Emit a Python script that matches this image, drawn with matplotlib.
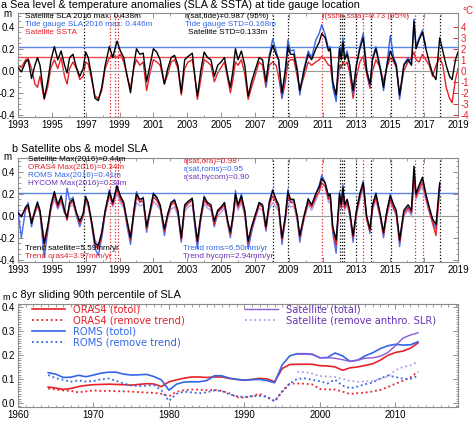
import matplotlib
matplotlib.use("Agg")
import matplotlib.pyplot as plt
import numpy as np
from matplotlib.ticker import MultipleLocator, FixedLocator, FormatStrFormatter

plt.rcParams['font.family'] = ['Liberation Sans', 'DejaVu Sans']

W, H = 474, 423

# ---------------------------------------------------------------------------
# Data
# ---------------------------------------------------------------------------

# satellite SLA at tide gauge (m), one line per calendar year
sat_years = np.array([
    1993.00, 1993.20, 1993.45, 1993.60, 1993.80,
    1994.00, 1994.15, 1994.30, 1994.55, 1994.75, 1994.95,
    1995.15, 1995.35, 1995.55, 1995.75, 1995.90,
    1996.05, 1996.25, 1996.45, 1996.65, 1996.85,
    1997.00, 1997.15, 1997.35, 1997.55, 1997.75, 1997.95,
    1998.15, 1998.40, 1998.60, 1998.85,
    1999.05, 1999.25, 1999.45, 1999.65, 1999.85,
    2000.00, 2000.20, 2000.40, 2000.60, 2000.80,
    2001.00, 2001.20, 2001.40, 2001.65, 2001.85,
    2002.05, 2002.25, 2002.45, 2002.65, 2002.85,
    2003.05, 2003.30, 2003.45, 2003.60, 2003.80,
    2004.00, 2004.20, 2004.40, 2004.60, 2004.80,
    2005.00, 2005.20, 2005.40, 2005.55, 2005.70, 2005.85,
    2006.00, 2006.20, 2006.40, 2006.60, 2006.80,
    2007.00, 2007.25, 2007.45, 2007.65, 2007.85,
    2008.05, 2008.25, 2008.40, 2008.60, 2008.80, 2008.95,
    2009.10, 2009.30, 2009.50, 2009.65, 2009.90,
    2010.15, 2010.35, 2010.60, 2010.80, 2010.95,
    2011.15, 2011.35, 2011.45, 2011.60, 2011.80,
    2012.00, 2012.10, 2012.20, 2012.30, 2012.45, 2012.60, 2012.80,
    2013.00, 2013.20, 2013.40, 2013.60, 2013.80, 2013.95,
    2014.15, 2014.40, 2014.60, 2014.80,
    2015.00, 2015.20, 2015.35, 2015.55, 2015.80,
    2016.05, 2016.25, 2016.40, 2016.52, 2016.70, 2016.90,
    2017.10, 2017.30, 2017.50, 2017.70, 2017.92,
    2018.10, 2018.30, 2018.50, 2018.65, 2018.85,
    2019.00,
])
sat_sla = np.array([
    0.03, -0.01, 0.08, 0.10, -0.07,
    0.05, 0.12, 0.05, -0.25, -0.10, 0.10,
    0.22, 0.10, 0.18, 0.05, -0.02,
    0.12, 0.15, 0.03, -0.05, 0.02,
    0.17, 0.12, -0.05, -0.25, -0.27, -0.15,
    0.05, 0.22, 0.12, 0.27,
    0.18, 0.12, -0.05, -0.20, 0.05,
    0.20, 0.15, 0.16, -0.10, 0.05,
    0.20, 0.17, 0.10, -0.12, 0.02,
    0.12, 0.14, 0.05, -0.20, 0.10,
    0.13, 0.16, -0.05, -0.23, 0.00,
    0.17, 0.12, 0.10, -0.05, 0.05,
    0.08, 0.12, -0.05, -0.15, 0.00, 0.20,
    0.10, 0.18, 0.05, -0.23, -0.10,
    0.00, 0.12, 0.10, -0.10, 0.12,
    0.23, 0.15, 0.10, -0.20, 0.00, 0.22,
    0.15, 0.15, 0.00, -0.18, 0.00,
    0.15, 0.10, 0.20, 0.26, 0.34,
    0.30, 0.18, 0.20, -0.10, -0.22,
    0.20, 0.10, 0.26, 0.10, 0.15, 0.05, -0.18,
    0.05, 0.20, 0.30, 0.00, -0.12, 0.10,
    0.20, 0.02, -0.15, 0.05,
    0.18, 0.10, 0.05, -0.22, 0.05,
    0.10, 0.05, 0.45, 0.20, 0.28, 0.35,
    0.20, 0.08, -0.03, -0.08, 0.30,
    0.18, 0.05, -0.05, -0.08, 0.10,
    0.17,
])

# satellite SSTA (deg C), same dates
sat_ssta = np.array([
    0.5, 0.3, 1.0, 1.1, 0.2,
    -1.2, -1.5, -0.5, -2.6, -1.5, 0.3,
    1.0, 0.2, 1.2, -0.5, -1.2,
    0.2, 0.8, 0.2, -0.8, -0.5,
    0.8, 0.6, -0.8, -2.3, -2.5, -1.8,
    0.2, 1.2, 1.4, 1.2,
    1.5, 0.8, -0.5, -1.6, 0.3,
    1.0, 0.5, 0.8, -1.8, -0.2,
    1.0, 0.8, 0.5, -1.2, -0.3,
    0.8, 1.0, 0.2, -2.2, 0.2,
    0.8, 1.0, -0.5, -2.6, -0.8,
    1.0, 0.8, 0.5, -1.0, -0.2,
    0.3, 0.8, -0.8, -2.0, -0.8, 0.8,
    0.5, 1.0, -0.3, -2.6, -1.5,
    -0.5, 0.8, 0.5, -1.5, 0.5,
    0.8, 0.5, -0.5, -2.5, -1.0, 0.8,
    1.0, 1.0, -0.5, -1.8, -0.5,
    0.8, 0.5, 0.8, 1.0, 1.3,
    1.0, 0.5, 0.5, -1.2, -2.4,
    0.5, 0.3, 0.8, 0.5, 0.8, -0.2, -2.5,
    -0.5, 0.8, 1.3, -0.3, -1.6, 0.0,
    1.0, 0.3, -1.0, 0.3,
    1.2, 0.8, 0.3, -2.3, 0.0,
    0.8, 1.2, 1.7, 1.0, 0.8, 1.5,
    1.0, 0.5, -0.5, 0.5, 1.2,
    0.5, -1.5, -2.5, -2.9, -0.8,
    0.2,
])

# tide gauge SLA (m), 2007.65 - 2017.10
tide_years = np.array([
    2007.65, 2007.85,
    2008.05, 2008.25, 2008.40, 2008.60, 2008.80, 2008.95,
    2009.10, 2009.30, 2009.50, 2009.65, 2009.90,
    2010.15, 2010.35, 2010.60, 2010.80, 2010.95,
    2011.15, 2011.35, 2011.45, 2011.60, 2011.80,
    2012.00, 2012.10, 2012.20, 2012.30, 2012.45, 2012.60, 2012.80,
    2013.00, 2013.20, 2013.40, 2013.60, 2013.80, 2013.95,
    2014.15, 2014.40, 2014.60, 2014.80,
    2015.00, 2015.20, 2015.35, 2015.55, 2015.80,
    2016.05, 2016.25, 2016.40, 2016.52, 2016.70, 2016.90,
    2017.10,
])
tide_sla = np.array([
    -0.14, 0.14,
    0.29, 0.18, 0.10, -0.25, 0.02, 0.28,
    0.18, 0.19, 0.02, -0.22, 0.02,
    0.18, 0.12, 0.28, 0.34, 0.42,
    0.33, 0.20, 0.22, -0.15, -0.28,
    0.22, 0.14, 0.30, 0.12, 0.18, 0.05, -0.21,
    0.06, 0.22, 0.34, 0.02, -0.14, 0.12,
    0.22, 0.04, -0.18, 0.06,
    0.32, 0.12, 0.06, -0.26, 0.06,
    0.12, 0.06, 0.47, 0.22, 0.30, 0.37,
    0.22,
])

# panel b models (m), on the satellite dates up to 2017.92
oras4_sla = np.array([
    0.02, 0.00, 0.06, 0.08, -0.05,
    0.03, 0.10, 0.03, -0.27, -0.12, 0.08,
    0.19, 0.08, 0.15, 0.04, -0.04,
    0.10, 0.13, 0.02, -0.07, 0.00,
    0.15, 0.10, -0.07, -0.26, -0.30, -0.17,
    0.03, 0.20, 0.10, 0.24,
    0.15, 0.10, -0.07, -0.22, 0.02,
    0.17, 0.13, 0.13, -0.12, 0.03,
    0.17, 0.14, 0.08, -0.14, 0.00,
    0.10, 0.12, 0.03, -0.22, 0.07,
    0.11, 0.14, -0.07, -0.24, -0.02,
    0.14, 0.10, 0.08, -0.08, 0.03,
    0.06, 0.10, -0.07, -0.17, -0.02, 0.17,
    0.08, 0.15, 0.03, -0.25, -0.12,
    -0.02, 0.10, 0.08, -0.12, 0.10,
    0.18, 0.12, 0.07, -0.22, -0.02, 0.18,
    0.12, 0.12, -0.02, -0.20, -0.02,
    0.12, 0.08, 0.17, 0.22, 0.30,
    0.27, 0.15, 0.17, -0.13, -0.27,
    0.17, 0.07, 0.22, 0.07, 0.12, 0.02, -0.20,
    0.02, 0.17, 0.28, -0.03, -0.14, 0.07,
    0.17, 0.00, -0.17, 0.02,
    0.15, 0.07, 0.02, -0.24, 0.02,
    0.07, 0.03, 0.34, 0.17, 0.24, 0.30,
    0.17, 0.05, -0.07, -0.18, 0.26,
])
roms_sla = np.array([
    0.05, -0.20, 0.06, 0.12, -0.10,
    0.04, 0.13, 0.02, -0.38, -0.15, 0.08,
    0.20, 0.07, 0.16, 0.02, 0.25,
    0.14, 0.17, 0.00, -0.10, 0.00,
    0.18, 0.10, -0.08, -0.30, -0.36, -0.20,
    0.02, 0.24, 0.10, 0.28,
    0.16, 0.10, -0.10, -0.26, 0.03,
    0.22, 0.12, 0.17, -0.15, 0.03,
    0.21, 0.15, 0.08, -0.18, 0.00,
    0.12, 0.15, 0.02, -0.24, 0.08,
    0.13, 0.15, -0.10, -0.30, -0.04,
    0.18, 0.10, 0.08, -0.10, 0.04,
    0.07, 0.12, -0.08, -0.20, -0.03, 0.23,
    0.08, 0.20, 0.02, -0.30, -0.15,
    -0.03, 0.12, 0.09, -0.14, 0.13,
    0.24, 0.13, 0.08, -0.26, -0.03, 0.24,
    0.13, 0.14, -0.03, -0.24, -0.02,
    0.16, 0.08, 0.20, 0.28, 0.37,
    0.30, 0.15, 0.18, -0.16, -0.34,
    0.22, 0.08, 0.28, 0.08, 0.14, 0.02, -0.24,
    0.03, 0.20, 0.32, -0.02, -0.16, 0.09,
    0.21, 0.00, -0.20, 0.04,
    0.20, 0.08, 0.03, -0.28, 0.03,
    0.08, 0.02, 0.41, 0.18, 0.26, 0.33,
    0.18, 0.05, -0.05, -0.12, 0.28,
])
hycom_sla = np.array([
    0.03, 0.00, 0.05, 0.07, -0.04,
    0.03, 0.08, 0.02, -0.22, -0.10, 0.05,
    0.15, 0.06, 0.12, 0.03, 0.00,
    0.08, 0.10, 0.01, -0.06, 0.00,
    0.12, 0.08, -0.05, -0.22, -0.26, -0.15,
    0.02, 0.17, 0.08, 0.20,
    0.12, 0.07, -0.05, -0.18, 0.00,
    0.12, 0.09, 0.10, -0.10, 0.02,
    0.13, 0.10, 0.06, -0.12, -0.02,
    0.06, 0.08, 0.00, -0.20, 0.04,
    0.08, 0.10, -0.07, -0.22, -0.04,
    0.11, 0.07, 0.05, -0.08, 0.00,
    0.03, 0.07, -0.08, -0.16, -0.04, 0.14,
    0.05, 0.12, 0.00, -0.22, -0.12,
    -0.04, 0.07, 0.05, -0.12, 0.06,
    0.12, 0.08, 0.04, -0.20, -0.04, 0.12,
    0.08, 0.09, -0.04, -0.18, -0.04,
    0.10, 0.05, 0.14, 0.22, 0.30,
    0.26, 0.12, 0.13, -0.12, -0.22,
    0.14, 0.06, 0.18, 0.05, 0.10, 0.00, -0.18,
    0.00, 0.14, 0.25, -0.04, -0.12, 0.05,
    0.14, -0.02, -0.15, 0.00,
    0.12, 0.05, 0.00, -0.20, 0.00,
    0.05, 0.00, 0.34, 0.15, 0.22, 0.26,
    0.14, 0.03, -0.06, -0.12, 0.22,
])
model_years = sat_years[sat_years < 2018.0]

# event markers (dotted verticals)
black_events = [1996.9, 2008.08, 2008.95, 2012.03, 2012.13, 2012.25,
                2012.95, 2013.85, 2015.03, 2017.94]
red_events = [1998.44, 1998.73, 1998.92, 2010.95, 2013.38, 2016.45, 2016.95]

# thresholds (m)
thr_blue_a, thr_red_a, thr_blue_b = 0.22, 0.125, 0.21

# panel c: 8-yr sliding 90th percentile (m)
c_years = np.arange(1964, 2014)
oras4_total = [
    0.068, 0.064, 0.058, 0.062, 0.070, 0.075, 0.078, 0.079, 0.080, 0.079,
    0.078, 0.076, 0.079, 0.082, 0.081, 0.070, 0.090, 0.098, 0.105, 0.110,
    0.110, 0.108, 0.110, 0.110, 0.104, 0.100, 0.096, 0.100, 0.104, 0.102,
    0.090, 0.145, 0.162, 0.163, 0.163, 0.163, 0.157, 0.156, 0.152, 0.138,
    0.148, 0.152, 0.158, 0.165, 0.180, 0.200, 0.212, 0.218, 0.230, 0.252,
]
oras4_detr = [
    0.062, 0.058, 0.054, 0.052, 0.046, 0.050, 0.054, 0.052, 0.052, 0.051,
    0.050, 0.049, 0.047, 0.045, 0.044, 0.040, 0.030, 0.048, 0.055, 0.058,
    0.057, 0.055, 0.056, 0.052, 0.042, 0.026, 0.024, 0.030, 0.040, 0.026,
    0.010, 0.048, 0.082, 0.083, 0.082, 0.079, 0.060, 0.058, 0.058, 0.049,
    0.039, 0.043, 0.045, 0.050, 0.056, 0.068, 0.082, 0.094, 0.108, 0.132,
]
roms_total = [
    0.128, 0.122, 0.108, 0.109, 0.117, 0.111, 0.118, 0.126, 0.130, 0.130,
    0.122, 0.118, 0.119, 0.121, 0.112, 0.098, 0.055, 0.080, 0.089, 0.090,
    0.090, 0.095, 0.115, 0.115, 0.105, 0.100, 0.097, 0.099, 0.100, 0.095,
    0.086, 0.160, 0.198, 0.207, 0.207, 0.205, 0.190, 0.191, 0.210, 0.198,
    0.175, 0.180, 0.198, 0.211, 0.228, 0.240, 0.246, 0.243, 0.244, 0.257,
]
roms_detr = [
    0.118, 0.105, 0.098, 0.090, 0.096, 0.091, 0.093, 0.100, 0.104, 0.094,
    0.083, 0.075, 0.072, 0.074, 0.076, 0.055, 0.010, 0.040, 0.049, 0.046,
    0.042, 0.046, 0.054, 0.052, 0.038, 0.030, 0.026, 0.030, 0.031, 0.028,
    0.008, 0.050, 0.083, 0.102, 0.104, 0.098, 0.092, 0.083, 0.099, 0.074,
    0.063, 0.070, 0.080, 0.087, 0.104, 0.116, 0.110, 0.103, 0.102, 0.114,
]
sat_c_years = np.arange(1997, 2014)
sat_total = [0.205, 0.206, 0.203, 0.190, 0.190, 0.188, 0.182, 0.175, 0.180,
             0.188, 0.190, 0.196, 0.212, 0.240, 0.272, 0.285, 0.294]
sat_detr = [0.132, 0.130, 0.124, 0.114, 0.112, 0.110, 0.102, 0.094, 0.090,
            0.092, 0.094, 0.102, 0.112, 0.138, 0.152, 0.158, 0.174]

year_ticks_ab = np.arange(1993, 2020, 2)

# ---------------------------------------------------------------------------
# Styling
# ---------------------------------------------------------------------------
RED = "#e8202a"
BLUE = "#3366e8"
PURPLE = "#6a32b8"
LAVENDER = "#b49be6"
SAT_PURPLE = "#8a5ad6"
GRAY = "#8c8c8c"
DOT = (0, (1, 1.6))

TICK_FS = 7.0
TITLE_FS = 7.8
NOTE_FS = 5.9


def fx(px):
    return px / W


def fy(py):
    return 1 - py / H


def box_axes(ax, right=True):
    for s in ax.spines.values():
        s.set_color(GRAY)
        s.set_linewidth(0.8)
    ax.tick_params(which="both", direction="in", top=True, right=right,
                   colors=GRAY, labelcolor="black", labelsize=TICK_FS, pad=2)
    ax.tick_params(which="major", length=3.5, width=0.7)
    ax.tick_params(which="minor", length=1.8, width=0.6)


def note(px, py, s, color="black", fs=NOTE_FS, **kw):
    fig.text(fx(px), fy(py), s, color=color, fontsize=fs, va="center", ha="left", **kw)


def events(ax):
    for t in black_events:
        ax.axvline(t, color="black", ls=DOT, lw=0.9, zorder=1)
    for t in red_events:
        ax.axvline(t, color=RED, ls=DOT, lw=0.9, zorder=1)


def year_axis(ax):
    ax.set_xlim(1993, 2019)
    ax.xaxis.set_major_locator(FixedLocator(year_ticks_ab))
    ax.xaxis.set_minor_locator(MultipleLocator(1))
    ax.set_ylim(-0.42, 0.525)
    ax.yaxis.set_major_locator(MultipleLocator(0.2))
    ax.yaxis.set_minor_locator(MultipleLocator(0.05))
    ax.yaxis.set_major_formatter(FormatStrFormatter("%.1f"))


fig = plt.figure(figsize=(W / 100, H / 100), dpi=100)

# ---------------------------------------------------------------------------
# Panel a
# ---------------------------------------------------------------------------
ax_a = fig.add_axes([fx(18), fy(117), fx(440), 104 / H])
box_axes(ax_a, right=False)
year_axis(ax_a)
events(ax_a)
ax_a.axhline(0, color="#999999", lw=0.8, zorder=1)
ax_a.axhline(thr_blue_a, color="#5b86e6", lw=1.0, zorder=1)
ax_a.axhline(thr_red_a, color="#ee4a4a", lw=1.0, zorder=1)

ax_t = ax_a.twinx()
ax_t.set_ylim(-4.2, 5.25)
ax_t.plot(sat_years, sat_ssta, color=RED, lw=1.0, zorder=2)
for s in ax_t.spines.values():
    s.set_visible(False)
ax_t.tick_params(axis="y", direction="in", colors=RED, labelsize=TICK_FS,
                 length=3.5, width=0.7, pad=2)
ax_t.set_yticks(np.arange(-4, 5))
ax_t.set_yticklabels([str(v) for v in range(-4, 5)])

ax_a.set_zorder(ax_t.get_zorder() + 1)
ax_a.patch.set_visible(False)
ax_a.plot(tide_years, tide_sla, color=BLUE, lw=1.0, zorder=3)
ax_a.plot(sat_years, sat_sla, color="black", lw=1.0, zorder=4)
ax_a.spines["right"].set_color(GRAY)

fig.text(fx(1), fy(4.5), "a Sea level & temperature anomalies (SLA & SSTA) at tide gauge location",
         fontsize=TITLE_FS, va="center", ha="left")
note(3, 14, "m", fs=7)
note(462, 11, "°C", color=RED, fs=7)
note(25, 17, "Satellite SLA 2016 max: 0.438m")
note(25, 25, "Tide gauge SLA 2016 max: 0.446m", color=BLUE)
note(25, 33, "Satellite SSTA", color=RED)
note(185, 17, "r(sat,tide)=0.987 (95%)")
note(185, 25, "Tide gauge STD=0.168m", color=BLUE)
note(188, 33, "Satellite STD=0.133m")
note(322, 16, "r(ssha,ssta)=0.73 (95%)", color=RED)

# ---------------------------------------------------------------------------
# Panel b
# ---------------------------------------------------------------------------
ax_b = fig.add_axes([fx(18), fy(262), fx(440), 104 / H])
box_axes(ax_b)
year_axis(ax_b)
events(ax_b)
ax_b.axhline(0, color="#999999", lw=0.8, zorder=1)
ax_b.axhline(thr_blue_b, color="#5b86e6", lw=1.0, zorder=1)
ax_b.plot(model_years, hycom_sla, color=LAVENDER, lw=1.0, zorder=2)
ax_b.plot(model_years, roms_sla, color="#4a6cf0", lw=1.0, zorder=3)
ax_b.plot(model_years, oras4_sla, color=RED, lw=1.0, zorder=4)
ax_b.plot(model_years, sat_sla[sat_years < 2018.0], color="black", lw=1.0, zorder=5)

fig.text(fx(12), fy(149), "b Satellite obs & model SLA", fontsize=TITLE_FS,
         va="center", ha="left")
note(3, 157, "m", fs=7)
note(28, 159.5, "Satellite Max(2016)=0.44m")
note(28, 167.5, "ORAS4 Max(2016)=0.34m", color=RED)
note(28, 175.5, "ROMS Max(2016)=0.41m", color=BLUE)
note(28, 183.5, "HYCOM Max(2016)=0.34m", color=PURPLE)
note(183, 161.5, "r(sat,ora)=0.98", color=RED)
note(183, 169.5, "r(sat,roms)=0.95", color=BLUE)
note(183, 177.5, "r(sat,hycom)=0.90", color=PURPLE)
note(25, 248, "Trend satellite=5.59mm/yr")
note(25, 256, "Trend oras4=3.97mm/yr", color=RED)
note(183, 248, "Trend roms=6.50mm/yr", color=BLUE)
note(183, 256, "Trend hycom=2.94mm/yr", color=PURPLE)

# ---------------------------------------------------------------------------
# Panel c
# ---------------------------------------------------------------------------
ax_c = fig.add_axes([fx(18), fy(407), fx(440), 103 / H])
box_axes(ax_c)
ax_c.set_xlim(1960, 2018.3)
ax_c.xaxis.set_major_locator(MultipleLocator(10))
ax_c.xaxis.set_minor_locator(MultipleLocator(1))
ax_c.set_ylim(-0.015, 0.414)
ax_c.yaxis.set_major_locator(MultipleLocator(0.1))
ax_c.yaxis.set_minor_locator(MultipleLocator(0.01))
ax_c.yaxis.set_major_formatter(FormatStrFormatter("%.1f"))

h1, = ax_c.plot(c_years, oras4_total, color=RED, lw=1.2)
h2, = ax_c.plot(c_years, oras4_detr, color=RED, lw=1.3, ls=DOT)
h3, = ax_c.plot(c_years, roms_total, color=BLUE, lw=1.2)
h4, = ax_c.plot(c_years, roms_detr, color=BLUE, lw=1.3, ls=DOT)
h5, = ax_c.plot(sat_c_years, sat_total, color=SAT_PURPLE, lw=1.0)
h6, = ax_c.plot(sat_c_years, sat_detr, color=LAVENDER, lw=1.3, ls=DOT)

leg_kw = dict(frameon=False, handlelength=3.3, handletextpad=0.8,
              labelspacing=0.12, borderaxespad=0, borderpad=0,
              prop={"family": "DejaVu Sans", "size": 7.2})
leg1 = ax_c.legend([h1, h2, h3, h4],
                   ["ORAS4 (totol)", "ORAS4 (remove trend)", "ROMS (totol)", "ROMS (remove trend)"],
                   loc="upper left", bbox_to_anchor=(fx(32), fy(304)),
                   bbox_transform=fig.transFigure,
                   labelcolor=[RED, RED, BLUE, BLUE], **leg_kw)
ax_c.add_artist(leg1)
ax_c.legend([h5, h6], ["Satellite (total)", "Satellite (remove anthro. SLR)"],
            loc="upper left", bbox_to_anchor=(fx(245), fy(304)),
            bbox_transform=fig.transFigure,
            labelcolor=[PURPLE, PURPLE], **leg_kw)

fig.text(fx(12), fy(294.5), "c 8yr sliding 90th percentile of SLA", fontsize=TITLE_FS,
         va="center", ha="left")
note(2.5, 297, "m", fs=6.5)

fig.savefig("out.png", dpi=100)
